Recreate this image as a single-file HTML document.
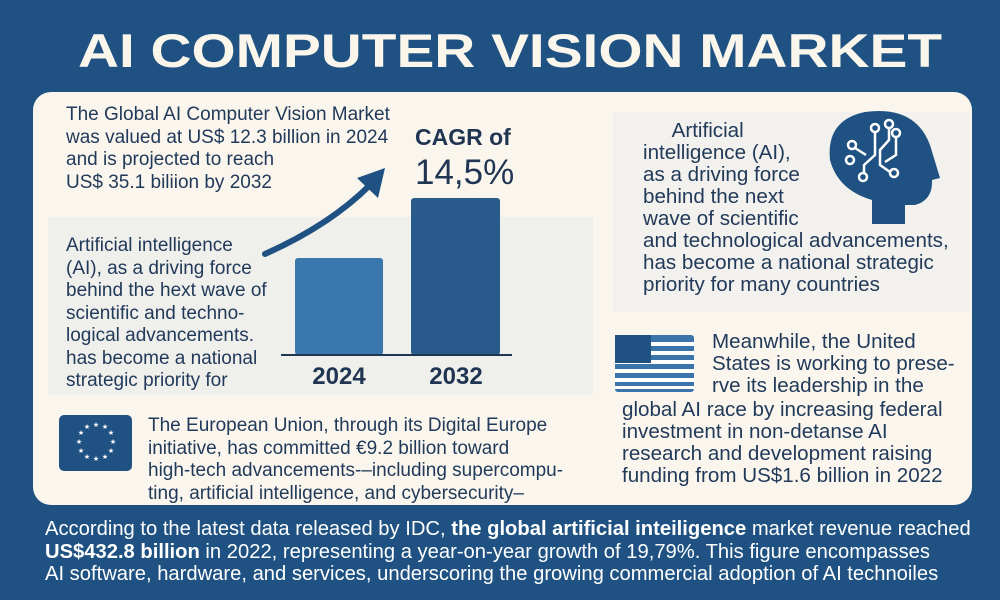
<!DOCTYPE html>
<html><head><meta charset="utf-8"><style>
*{margin:0;padding:0}
body{width:1000px;height:600px;background:#1f5282;position:relative;overflow:hidden;font-family:"Liberation Sans",sans-serif;color:#1f3552}
.a{position:absolute;white-space:nowrap}
.t{font-size:19px;line-height:22.5px;color:#223a5a}
.r{font-size:20.6px;line-height:22px;color:#223a5a}
.w{font-size:20.2px;line-height:22.5px;color:#fff}
</style></head><body>
<svg class="a" style="left:0;top:0" width="1000" height="600">
<text x="78" y="67" textLength="864" lengthAdjust="spacingAndGlyphs" font-family="Liberation Sans" font-weight="bold" font-size="47" fill="#fbf6ec">AI COMPUTER VISION MARKET</text>
<rect x="33" y="92" width="939" height="413" rx="18" fill="#faf6ee"/>
<rect x="48" y="217" width="545" height="178" fill="#efefec"/>
<rect x="613" y="112" width="357" height="200" fill="#f2f1ed"/>
<rect x="295" y="258" width="88" height="97" rx="3" fill="#3a77ad"/>
<rect x="411" y="198" width="89" height="157" rx="3" fill="#295a8c"/>
<line x1="281" y1="355" x2="512" y2="355" stroke="#1f3552" stroke-width="2"/>
<path d="M265 254 Q330 225 370 185" stroke="#1f5282" stroke-width="6" fill="none" stroke-linecap="round"/>
<polygon points="385,168 357,178 378,198" fill="#1f5282"/>
<text x="339" y="384" text-anchor="middle" font-weight="bold" font-size="24" fill="#1f3552">2024</text>
<text x="456" y="384" text-anchor="middle" font-weight="bold" font-size="24" fill="#1f3552">2032</text>
<text x="415" y="145" font-weight="bold" font-size="23" fill="#1f3552">CAGR of</text>
<text x="415" y="184" font-size="35" fill="#1f3552">14,5%</text>
<path d="M872 224 L872 200 Q838 190 830 160 Q826 120 865 112 Q915 105 930 145 L940 178 L932 180 Q933 200 915 205 L905 205 L905 224 Z" fill="#1f5282"/>
<g stroke="#fff" stroke-width="2.5" fill="none">
<circle cx="852" cy="145" r="4"/><circle cx="850" cy="160" r="4"/><circle cx="863" cy="177" r="4"/>
<circle cx="875" cy="128" r="4"/><circle cx="889" cy="124" r="4"/><circle cx="894" cy="173" r="4"/><circle cx="896" cy="133" r="4"/>
<path d="M875 132 L875 155 L864 165 L864 173 M889 128 L889 140 L880 150 L880 165 L890 172 M896 137 L896 155 L885 162 M855 148 L866 155"/>
</g>
<g>
<rect x="615" y="335" width="79" height="57" rx="3" fill="#3b74aa"/>
<rect x="615" y="342" width="79" height="4" fill="#fff"/><rect x="615" y="351" width="79" height="4" fill="#fff"/><rect x="615" y="360" width="79" height="4" fill="#fff"/><rect x="615" y="369" width="79" height="4" fill="#fff"/><rect x="615" y="378" width="79" height="4" fill="#fff"/><rect x="615" y="386" width="79" height="3" fill="#fff"/>
<rect x="615" y="335" width="36" height="28" fill="#1f5282"/>
</g>
<rect x="59" y="415" width="73" height="56" rx="5" fill="#1f5282"/>
<g fill="#fff" font-size="7" text-anchor="middle">
<text x="96" y="427">★</text><text x="105" y="429">★</text><text x="111" y="435">★</text><text x="113" y="444">★</text><text x="111" y="453">★</text><text x="105" y="459">★</text><text x="96" y="461">★</text><text x="87" y="459">★</text><text x="81" y="453">★</text><text x="79" y="444">★</text><text x="81" y="435">★</text><text x="87" y="429">★</text>
</g>
</svg>
<div class="a t" style="left:66px;top:104px">The Global AI Computer Vision Market<br>was valued at US$ 12.3 billion in 2024<br>and is projected to reach<br>US$ 35.1 biliion by 2032</div>
<div class="a t" style="left:66px;top:235px">Artificial intelligence<br>(AI), as a driving force<br>behind the hext wave of<br>scientific and techno-<br>logical advancements.<br>has become a national<br>strategic priority for</div>
<div class="a r" style="left:643px;top:120px">&nbsp;&nbsp;&nbsp;&nbsp;&nbsp;Artificial<br>intelligence (AI),<br>as a driving force<br>behind the next<br>wave of scientific<br>and technological advancements,<br>has become a national strategic<br>priority for many countries</div>
<div class="a r" style="left:712px;top:331px">Meanwhile, the United<br>States is working to prese-<br>rve its leadership in the</div>
<div class="a r" style="left:622px;top:399px">global AI race by increasing federal<br>investment in non-detanse AI<br>research and development raising<br>funding from US$1.6 billion in 2022</div>
<div class="a t" style="left:148px;top:415px">The European Union, through its Digital Europe<br>initiative, has committed €9.2 billion toward<br>high-tech advancements-–including supercompu-<br>ting, artificial intelligence, and cybersecurity–</div>
<div class="a w" style="left:45px;top:518px">According to the latest data released by IDC, <b>the global artificial inteiligence</b> market revenue reached<br><b>US$432.8 billion</b> in 2022, representing a year-on-year growth of 19,79%. This figure encompasses<br>AI software, hardware, and services, underscoring the growing commercial adoption of AI technoiles</div>
</body></html>
